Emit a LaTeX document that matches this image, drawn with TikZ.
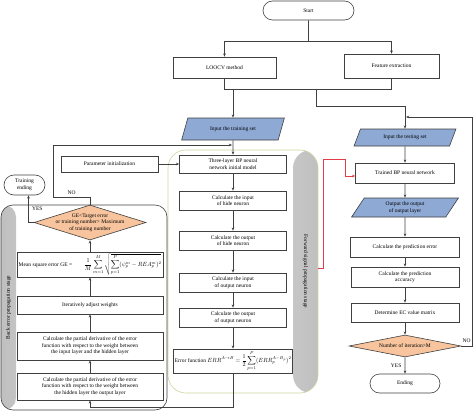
\documentclass[tikz,border=0pt]{standalone}
\usepackage{fontspec}
\setmainfont{Liberation Serif}
\usetikzlibrary{shapes.geometric,shapes.misc,arrows.meta}
\definecolor{setblue}{RGB}{141,169,212}
\definecolor{condorange}{RGB}{247,196,158}
\definecolor{fwdgreen}{RGB}{205,212,160}
\definecolor{linkred}{RGB}{226,62,72}
\definecolor{linegray}{RGB}{64,64,64}
\newcommand{\smallmath}[1]{\scalebox{0.6}{\fontsize{10}{12}\selectfont$\displaystyle #1$}}

\begin{document}
\begin{tikzpicture}[x=1pt, y=-1pt, line width=0.6pt, color=linegray, text=black,
  font=\fontsize{5.5}{6.5}\selectfont, >={Stealth[length=3.2pt,width=2.6pt]},
  box/.style 2 args={rectangle, draw, fill=white, align=center, inner sep=1pt, minimum width=#1, minimum height=#2},
  inout/.style 2 args={trapezium, trapezium left angle=65, trapezium right angle=115, trapezium stretches=true, draw, fill=setblue, align=center, inner sep=1pt, minimum width=#1, minimum height=#2},
  cond/.style 2 args={diamond, draw, fill=condorange, inner sep=0pt, minimum width=#1, minimum height=#2},
  term/.style 2 args={rounded rectangle, draw, fill=white, align=center, inner sep=1pt, minimum width=#1, minimum height=#2},
  stage/.style 2 args={rectangle, inner sep=0pt, minimum width=#1, minimum height=#2}]
\useasboundingbox (0,0) rectangle (474,412);
\node[term={93pt}{19pt}] (P_start) at (308.5,10.5) {Start};
\node[box={103pt}{21pt}] (P_loocv) at (224.5,67.5) {LOOCV method};
\node[box={95pt}{24pt}] (P_feat) at (391.5,66) {Feature extraction};
\node[inout={103pt}{22pt}] (P_train) at (233,129) {Input the training set};
\node[inout={102pt}{17pt}] (P_test) at (405,137.5) {Input the testing set};
\node[stage={150pt}{243pt}, draw=fwdgreen, rounded corners=18pt, path picture={\shade[left color=gray!15, right color=gray!50] ([xshift=-25pt]path picture bounding box.north east) rectangle (path picture bounding box.south east);}] (P_fwd) at (243,271.5) {};
\node[rotate=-90] (P_fwdlbl) at (305.5,271.5) {Forward signal propagation stage};
\node[stage={166pt}{205pt}, draw, rounded corners=12pt, path picture={\shade[left color=gray!50, right color=gray!15] (path picture bounding box.north west) rectangle ([xshift=15pt]path picture bounding box.south west);}] (P_bwd) at (84,307.5) {};
\node[rotate=90] (P_bwdlbl) at (8.5,307.5) {Back error propagation stage};
\node[box={107pt}{18pt}] (P_f0) at (233,164) {Three-layer BP neural\\network initial model};
\node[box={107pt}{19pt}] (P_f1) at (233,200.5) {Calculate the input\\of hide neuron};
\node[box={107pt}{19pt}] (P_f2) at (233,240.5) {Calculate the output\\of hide neuron};
\node[box={107pt}{19pt}] (P_f3) at (233,282.5) {Calculate the input\\of output neuron};
\node[box={107pt}{19pt}] (P_f4) at (233,317.5) {Calculate the output\\of output neuron};
\node[box={118pt}{24pt}] (P_err) at (233,361) {Error function \smallmath{ERR^{A\rightarrow B}=\frac{1}{2}\sum_{p=1}^{P}(ERR_p^{A-B_p})^2}};
\node[box={97pt}{16pt}] (P_param) at (109.5,164) {Parameter initialization};
\node[term={43pt}{20pt}] (P_tend) at (24.5,185) {Training\\ending};
\node[cond={112pt}{35pt}, label={[align=center]center:GE<Target error\\or training number> Maximum\\of training number}] (P_ge) at (90,222.5) {};
\node[box={146pt}{25pt}] (P_b0) at (90,264.5) {Mean square error GE =\hspace{12pt}\smallmath{\frac{1}{M}\sum_{m=1}^{M}\sqrt{\sum_{p=1}^{P}(\psi_p^m-REA_p^m)^2}}};
\node[box={146pt}{18pt}] (P_b1) at (90,305) {Iteratively adjust weights};
\node[box={146pt}{28pt}] (P_b2) at (90,346) {Calculate the partial derivative of the error\\function with respect to the weight between\\the input layer and the hidden layer};
\node[box={146pt}{27pt}] (P_b3) at (90,386.5) {Calculate the partial derivative of the error\\function with respect to the weight between\\the hidden layer the output layer};
\node[box={99pt}{20pt}] (P_trained) at (405,173) {Trained BP neural network};
\node[inout={107pt}{19pt}] (P_out) at (405,207.5) {Output the output\\of output layer};
\node[box={109pt}{20pt}] (P_perr) at (405,247) {Calculate the prediction error};
\node[box={108pt}{20pt}] (P_pacc) at (405,277) {Calculate the prediction\\accuracy};
\node[box={108pt}{19pt}] (P_ec) at (405,312.5) {Determine EC value matrix};
\node[cond={112pt}{22pt}, label={center:Number of iteration>M}] (P_iter) at (405,346) {};
\node[term={72pt}{19pt}] (P_end) at (405,383.5) {Ending};
\coordinate (J_top) at (308.5,41);
\draw (P_start) -- (J_top);
\draw[->] (J_top) -| (P_loocv);
\draw[->] (J_top) -| (P_feat);
\coordinate (J_mid) at (316,89);
\draw (P_loocv) |- (J_mid);
\draw (P_feat) |- (J_mid);
\draw[->] (P_train |- J_mid) -- (P_train);
\draw[->] (J_mid) -- ++(0,17) -| (P_test);
\draw[->] (P_test) -- (P_trained);
\draw[->] (P_trained) -- (P_out);
\draw[->] (P_out) -- (P_perr);
\draw[->] (P_perr) -- (P_pacc);
\draw[->] (P_pacc) -- (P_ec);
\draw[->] (P_ec) -- (P_iter);
\draw[->] (P_iter) -- (P_end) node[midway, left] {YES};
\coordinate (J_right) at (472,117);
\coordinate (J_back) at (406,117);
\draw[->] (P_iter) -| node[pos=0.25, above] {NO} (J_right) -- (J_back);
\draw[->] (P_train) -- (P_f0);
\draw[->] (P_f0) -- (P_f1);
\draw[->] (P_f1) -- (P_f2);
\draw[->] (P_f2) -- (P_f3);
\draw[->] (P_f3) -- (P_f4);
\draw[->] (P_f4) -- (P_err);
\draw[->] (P_param) -- (P_f0);
\coordinate (J_no1) at (53,145);
\coordinate (J_no2) at (232,145);
\draw[->] (P_ge.north) -- ++(0,-7) -| node[pos=0.25, above] {NO} (J_no1) -- (J_no2);
\draw[->] (P_ge.west) -| node[pos=0.75, right] {YES} ([xshift=4pt]P_tend.south);
\draw[->] (P_b3) -- (P_b2);
\draw[->] (P_b2) -- (P_b1);
\draw[->] (P_b1) -- (P_b0);
\draw[->] (P_b0) -- (P_ge);
\coordinate (J_low) at (90,407);
\draw[->] (P_err) |- (J_low) -- (P_b3);
\coordinate (J_r1) at (323,268);
\coordinate (J_r2) at (345,159);
\draw[->, linkred] (P_fwd.east |- J_r1) -- (J_r1) |- (J_r2) |- ([yshift=-3pt]P_trained.west);
\end{tikzpicture}
\end{document}
